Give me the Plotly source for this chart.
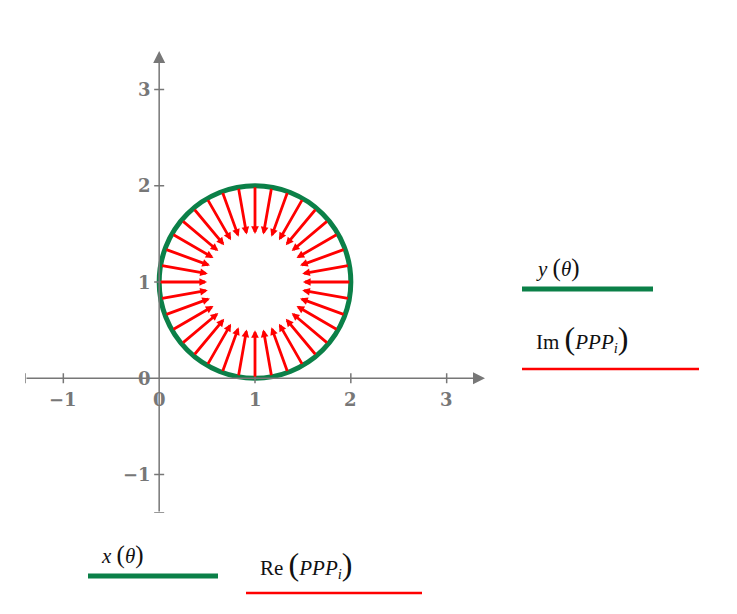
import numpy as np
import plotly.graph_objects as go

# PPP_i : arrow directions (degrees), every 10 deg round the circle
theta_deg = [0, 10, 20, 30, 40, 50, 60, 70, 80, 90, 100, 110,
             120, 130, 140, 150, 160, 170, 180, 190, 200, 210, 220, 230,
             240, 250, 260, 270, 280, 290, 300, 310, 320, 330, 340, 350]
center_x = 1.0
center_y = 1.0
r_outer = 1.0   # x(theta), y(theta) circle
r_inner = 0.5   # arrow tips

x_ticks = [-1, 0, 1, 2, 3]
y_ticks = [-1, 0, 1, 2, 3]
x_lo, x_hi = -1.4, 3.4
y_lo, y_hi = -1.4, 3.4

green = "#0b8048"
red = "#ff0000"
grey = "#777777"
serif = "Liberation Serif, Times New Roman, serif"
tick_font = dict(family="DejaVu Serif", size=18, color=grey)
leg_font = dict(family=serif, size=21, color="#111111")

fig = go.Figure()
shapes = []
ann = []

# circle x(theta), y(theta)
shapes.append(dict(type="circle", xref="x", yref="y",
                   x0=center_x - r_outer, x1=center_x + r_outer,
                   y0=center_y - r_outer, y1=center_y + r_outer,
                   line=dict(color=green, width=5)))

# arrows Re(PPP_i), Im(PPP_i)
th = np.radians(theta_deg)
tail_x = center_x + r_outer * np.cos(th)
tail_y = center_y + r_outer * np.sin(th)
head_x = center_x + r_inner * np.cos(th)
head_y = center_y + r_inner * np.sin(th)
for tx, ty, hx, hy in zip(tail_x, tail_y, head_x, head_y):
    ann.append(dict(x=hx, y=hy, ax=tx, ay=ty, xref="x", yref="y",
                    axref="x", ayref="y", text="", showarrow=True,
                    arrowhead=2, arrowsize=0.55, arrowwidth=2.8,
                    arrowcolor=red, standoff=0, startstandoff=0))

# axes with arrow heads
ann.append(dict(x=x_hi, y=0, ax=x_lo, ay=0, xref="x", yref="y", axref="x", ayref="y",
                text="", showarrow=True, arrowhead=2, arrowsize=1.6, arrowwidth=1.5,
                arrowcolor=grey, standoff=0))
ann.append(dict(x=0, y=y_hi, ax=0, ay=y_lo, xref="x", yref="y", axref="x", ayref="y",
                text="", showarrow=True, arrowhead=2, arrowsize=1.6, arrowwidth=1.5,
                arrowcolor=grey, standoff=0))

# ticks
for xv in x_ticks + [x_lo]:
    if xv == 0:
        continue
    shapes.append(dict(type="line", xref="x", yref="y", ysizemode="pixel", yanchor=0,
                       x0=xv, x1=xv, y0=-5, y1=5, line=dict(color=grey, width=1.5)))
for yv in y_ticks + [y_lo]:
    if yv == 0:
        continue
    shapes.append(dict(type="line", xref="x", yref="y", xsizemode="pixel", xanchor=0,
                       y0=yv, y1=yv, x0=-5, x1=5, line=dict(color=grey, width=1.5)))

# tick labels
for xv in x_ticks:
    ann.append(dict(x=xv, y=0, xref="x", yref="y", text="<b>%s</b>" % str(xv).replace("-", "\u2212"),
                    showarrow=False, yshift=-21, font=tick_font))
for yv in y_ticks:
    ann.append(dict(x=0, y=yv, xref="x", yref="y", text="<b>%s</b>" % str(yv).replace("-", "\u2212"),
                    showarrow=False, xanchor="right", xshift=-6, font=tick_font))

# Mathcad style legends, placed by screen pixel (page has 8px body margin)
W, H = 737, 614
ML, MR, MT, MB = 17, 260, 43, 109
PW, PH = W - ML - MR, H - MT - MB


def px(sx, sy):
    return ((sx - 8) - ML) / PW, 1 - ((sy - 8) - MT) / PH


def leg_line(x0, x1, yp, col, w):
    a0, b0 = px(x0, yp)
    a1, _ = px(x1, yp)
    shapes.append(dict(type="line", xref="paper", yref="paper", x0=a0, x1=a1, y0=b0, y1=b0,
                       line=dict(color=col, width=w)))


def leg_text(xp, yp, txt):
    a, b = px(xp, yp)
    ann.append(dict(x=a, y=b, xref="paper", yref="paper", text=txt, showarrow=False,
                    xanchor="left", yanchor="middle", font=leg_font))


big_l = "<span style='font-size:32px'>(</span>"
big_r = "<span style='font-size:32px'>)</span>"
mid_l = "<span style='font-size:25px'>(</span>"
mid_r = "<span style='font-size:25px'>)</span>"
ppp = "<i>PPP</i><sub><i>i</i></sub>"

leg_line(522, 653, 289, green, 5)
leg_text(534, 268, "<i>y</i> " + mid_l + "<i>θ</i>" + mid_r)
leg_line(522, 699, 369, red, 2.5)
leg_text(534, 338, "Im " + big_l + ppp + big_r)

leg_line(88, 218, 576, green, 5)
leg_text(99, 555, "<i>x</i> " + mid_l + "<i>θ</i>" + mid_r)
leg_line(246, 422, 593, red, 2.5)
leg_text(258, 564, "Re " + big_l + ppp + big_r)

fig.update_layout(
    width=W, height=H,
    margin=dict(l=ML, r=MR, t=MT, b=MB),
    paper_bgcolor="white", plot_bgcolor="white",
    showlegend=False,
    xaxis=dict(range=[x_lo, x_hi], visible=False),
    yaxis=dict(range=[y_lo, y_hi], visible=False),
    shapes=shapes, annotations=ann,
)

fig.write_html("out.html")
